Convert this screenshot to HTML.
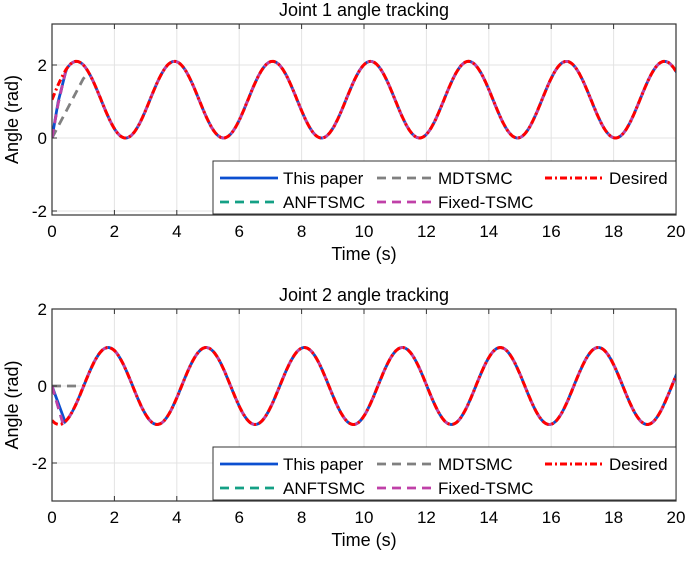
<!DOCTYPE html>
<html><head><meta charset="utf-8"><style>
body{margin:0;background:#fff;}
svg text{font-family:"Liberation Sans",Arial,sans-serif;fill:#000;}
</style></head><body>
<svg id="fig" width="685" height="561" viewBox="0 0 685 561" xmlns="http://www.w3.org/2000/svg"></svg>
<script>
// ---- data ----
const xTicks = [0,2,4,6,8,10,12,14,16,18,20];
const yTicks1 = [-2,0,2];
const yTicks2 = [-2,0,2];
// desired trajectories as extrema (time, value)
const desired1Times = [-0.785,0.785,2.356,3.927,5.498,7.069,8.639,10.21,11.78,13.35,14.92,16.49,18.06,19.63,21.2];
const desired1Vals  = [0,2.1,0,2.1,0,2.1,0,2.1,0,2.1,0,2.1,0,2.1,0];
const desired2Times = [-1.34,0.23,1.80,3.37,4.94,6.51,8.09,9.66,11.23,12.80,14.37,15.94,17.51,19.08,20.65];
const desired2Vals  = [1,-1,1,-1,1,-1,1,-1,1,-1,1,-1,1,-1,1];
// transients (then follow desired)
const j1PaperT=[0,0.2,0.42], j1PaperV=[0,1.0,1.75];
const j1MdT=[0,1.0,1.15], j1MdV=[0,1.62,1.78];
const j1AnT=[0,0.2,0.4], j1AnV=[0,0.95,1.7];
const j1FxT=[0,0.2,0.4], j1FxV=[0,0.95,1.7];
const j2PaperT=[0,0.42], j2PaperV=[0,-0.93];
const j2MdT=[0,0.9,1.02], j2MdV=[0,0,0];
const j2AnT=[0,0.35], j2AnV=[0,-0.97];
const j2FxT=[0,0.35], j2FxV=[0,-0.97];

const NS="http://www.w3.org/2000/svg";
const svg=document.getElementById('fig');
function el(tag,attrs,parent){const e=document.createElementNS(NS,tag);for(const k in attrs)e.setAttribute(k,attrs[k]);(parent||svg).appendChild(e);return e;}
function evalExt(ts,vs,t){for(let i=0;i<ts.length-1;i++){if(t>=ts[i]&&t<=ts[i+1]){const f=(t-ts[i])/(ts[i+1]-ts[i]);return vs[i]+(vs[i+1]-vs[i])*(1-Math.cos(Math.PI*f))/2;}}return vs[vs.length-1];}

const styles={
 paper:{stroke:'#0b4fd0',w:2.8,dash:''},
 md:{stroke:'#808080',w:2.8,dash:'9,6'},
 an:{stroke:'#14a085',w:2.8,dash:'9,6'},
 fx:{stroke:'#c040a8',w:2.8,dash:'9,6'},
 des:{stroke:'#ff0000',w:3,dash:'7,3,2,3'}
};

function panel(cfg){
 const g=el('g',{});
 
 
 const X=t=>cfg.L+(t-0)/20*(cfg.R-cfg.L);
 const Y=v=>cfg.zero-v*cfg.ppu;
 xTicks.forEach(t=>{const l=el('line',{x1:X(t),x2:X(t),y1:cfg.T,y2:cfg.B,stroke:'#e3e3e3','stroke-width':1},g);
  });
 cfg.yTicks.forEach(v=>{const l=el('line',{x1:cfg.L,x2:cfg.R,y1:Y(v),y2:Y(v),stroke:'#e3e3e3','stroke-width':1},g);
  });
 const cid='clip'+cfg.id;
 const cp=el('clipPath',{id:cid},g);el('rect',{x:cfg.L,y:cfg.T,width:cfg.R-cfg.L,height:cfg.B-cfg.T},cp);
 const dg=el('g',{'clip-path':'url(#'+cid+')'},g);
 function follower(Ts,Vs){let pts=Ts.map((t,i)=>[t,Vs[i]]);const t0=Ts[Ts.length-1];for(let t=t0+0.05;t<=20.05;t+=0.05)pts.push([t,evalExt(cfg.dT,cfg.dV,t)]);return pts;}
 function draw(pts,st,name){const p=el('polyline',{points:pts.map(p=>X(p[0]).toFixed(1)+','+Y(p[1]).toFixed(1)).join(' '),fill:'none',stroke:st.stroke,'stroke-width':st.w,'stroke-dasharray':st.dash},dg);
  }
 draw(follower(cfg.md[0],cfg.md[1]),styles.md,'mdtsmc-line');
 draw(follower(cfg.paper[0],cfg.paper[1]),styles.paper,'this-paper-line');
 draw(follower(cfg.an[0],cfg.an[1]),styles.an,'anftsmc-line');
 draw(follower(cfg.fx[0],cfg.fx[1]),styles.fx,'fixed-tsmc-line');
 const dp=[];for(let t=0;t<=20.001;t+=0.05)dp.push([t,evalExt(cfg.dT,cfg.dV,t)]);
 draw(dp,styles.des,'desired-line');
 const bx=el('rect',{x:cfg.L,y:cfg.T,width:cfg.R-cfg.L,height:cfg.B-cfg.T,fill:'none',stroke:'#333','stroke-width':1.2},g);
 
 xTicks.forEach(t=>{el('line',{x1:X(t),x2:X(t),y1:cfg.B,y2:cfg.B-5,stroke:'#333'},g);el('line',{x1:X(t),x2:X(t),y1:cfg.T,y2:cfg.T+5,stroke:'#333'},g);
  const tx=el('text',{x:X(t),y:cfg.B+22,'text-anchor':'middle','font-size':17},g);tx.textContent=t;
  });
 cfg.yTicks.forEach(v=>{el('line',{x1:cfg.L,x2:cfg.L+5,y1:Y(v),y2:Y(v),stroke:'#333'},g);
  const tx=el('text',{x:cfg.L-5,y:Y(v)+6,'text-anchor':'end','font-size':17},g);tx.textContent=v;
  });
 const ti=el('text',{x:364,y:cfg.T-8,'text-anchor':'middle','font-size':18},g);ti.textContent=cfg.title;
 
 const xl=el('text',{x:364,y:cfg.B+45,'text-anchor':'middle','font-size':18},g);xl.textContent='Time (s)';
 
 const my=(cfg.T+cfg.B)/2;
 const yl=el('text',{x:18,y:my,'text-anchor':'middle','font-size':18,transform:'rotate(-90 18 '+my+')'},g);yl.textContent='Angle (rad)';
 
 const lg=el('g',{},g);
 
 const ly=cfg.B-54;
 el('rect',{x:213,y:ly,width:463,height:53,fill:'#fff',stroke:'#333','stroke-width':1},lg);
 const ents=[['This paper',styles.paper,220,278,283,0],['MDTSMC',styles.md,377,434,438,0],['Desired',styles.des,545,605,609,0],['ANFTSMC',styles.an,220,278,283,1],['Fixed-TSMC',styles.fx,377,434,438,1]];
 ents.forEach(e=>{const yy=ly+17+e[5]*24;
  const eg=el('g',{},lg);
  
  el('line',{x1:e[2],x2:e[3],y1:yy,y2:yy,stroke:e[1].stroke,'stroke-width':e[1].w,'stroke-dasharray':e[1].dash},eg);
  const t=el('text',{x:e[4],y:yy+6,'font-size':17},eg);t.textContent=e[0];});
}
panel({id:1,name:'joint1-chart',title:'Joint 1 angle tracking',L:52,R:676,T:24,B:215,zero:138,ppu:36.5,yTicks:yTicks1,dT:desired1Times,dV:desired1Vals,
 paper:[j1PaperT,j1PaperV],md:[j1MdT,j1MdV],an:[j1AnT,j1AnV],fx:[j1FxT,j1FxV]});
panel({id:2,name:'joint2-chart',title:'Joint 2 angle tracking',L:52,R:676,T:309,B:501,zero:386,ppu:38.5,yTicks:yTicks2,dT:desired2Times,dV:desired2Vals,
 paper:[j2PaperT,j2PaperV],md:[j2MdT,j2MdV],an:[j2AnT,j2AnV],fx:[j2FxT,j2FxV]});
</script>
</body></html>
